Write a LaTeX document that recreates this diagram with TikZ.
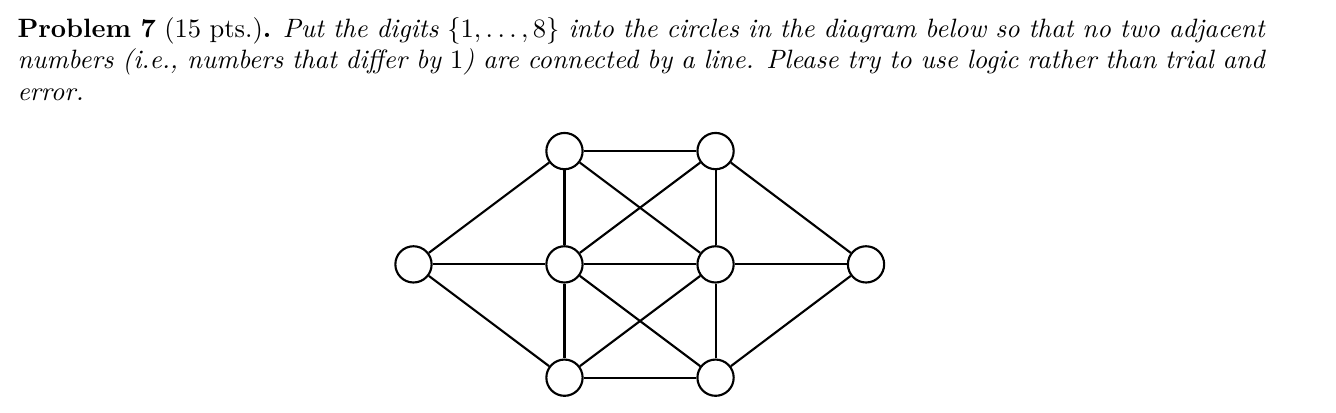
\documentclass[tikz,border=0pt]{standalone}
\usepackage{amsmath,amssymb}
\usepackage{tikz}
\usetikzlibrary{positioning}

\begin{document}
\begin{tikzpicture}[
  spot/.style={draw, circle, thick, fill=white, minimum size=4.8mm, inner sep=0pt},
  edge/.style={thick}
]
\useasboundingbox (0,0) rectangle (17.687,-5.455);
\node[anchor=north west, inner sep=0pt, text width=469.75pt, align=justify] (task) at (0.225,-0.22) {\textbf{Problem 7} (15 pts.)\textbf{.} \emph{Put the digits $\{1,\ldots,8\}$ into the circles in the diagram below so that no two adjacent\linebreak numbers (i.e., numbers that differ by $1$) are connected by a line. Please try to use logic rather than trial and\linebreak error.}};
\node[spot] (l) at (5.474,-3.5) {};
\node[spot] (tl) at (7.473,-2) {};
\node[spot] (tr) at (9.473,-2) {};
\node[spot] (ml) at (7.473,-3.5) {};
\node[spot] (mr) at (9.473,-3.5) {};
\node[spot] (r) at (11.465,-3.5) {};
\node[spot] (bl) at (7.473,-5) {};
\node[spot] (br) at (9.473,-5) {};
\draw[edge] (l) -- (tl);
\draw[edge] (l) -- (ml);
\draw[edge] (l) -- (bl);
\draw[edge] (tl) -- (tr);
\draw[edge] (tl) -- (ml);
\draw[edge] (tl) -- (mr);
\draw[edge] (tr) -- (ml);
\draw[edge] (tr) -- (mr);
\draw[edge] (tr) -- (r);
\draw[edge] (ml) -- (mr);
\draw[edge] (ml) -- (bl);
\draw[edge] (ml) -- (br);
\draw[edge] (mr) -- (bl);
\draw[edge] (mr) -- (br);
\draw[edge] (mr) -- (r);
\draw[edge] (r) -- (br);
\draw[edge] (bl) -- (br);
\end{tikzpicture}
\end{document}
